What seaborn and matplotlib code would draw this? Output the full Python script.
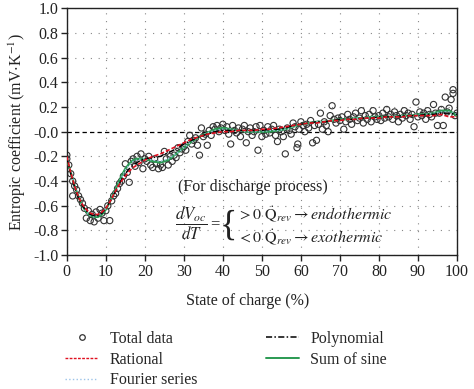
import numpy as np
import pandas as pd
import matplotlib
matplotlib.use('Agg')
import matplotlib.pyplot as plt
import seaborn as sns
from matplotlib.lines import Line2D
from matplotlib.ticker import FormatStrFormatter

# measured data (state of charge %, entropic coefficient mV/K)
soc_a = [0, 0, 0.5, 1, 1.5, 1.5, 2, 2.5, 3, 3.5, 4, 4.5, 5, 5.5, 6, 6.5, 7, 7.5, 8, 8.5,
         9, 9.5, 10, 10.5, 11, 11.5, 12, 12.5, 13, 13.5, 14, 14.5, 15, 15.5, 16, 16.5,
         17, 17.5, 18, 18.5, 19, 19.5, 20]
ent_a = [-0.19, -0.22, -0.27, -0.34, -0.40, -0.52, -0.44, -0.47, -0.52, -0.55, -0.58, -0.62,
         -0.70, -0.64, -0.72, -0.67, -0.73, -0.65, -0.70, -0.63, -0.66, -0.72, -0.64, -0.60,
         -0.72, -0.56, -0.52, -0.50, -0.46, -0.42, -0.40, -0.36, -0.26, -0.33, -0.41, -0.24,
         -0.22, -0.28, -0.20, -0.25, -0.18, -0.30, -0.22]

soc_b = [20.5, 21, 21.5, 22, 22.5, 23, 23.5, 24, 24.5, 25, 25.5, 26, 26.5, 27, 27.5, 28,
         28.5, 29, 29.5, 30, 30.5, 31, 31.5, 32, 32.5, 33, 33.5, 34, 34.5, 35, 35.5, 36,
         36.5, 37, 37.5, 38, 38.5, 39, 39.5, 40, 40.5]
ent_b = [-0.24, -0.20, -0.27, -0.29, -0.22, -0.26, -0.30, -0.27, -0.29, -0.16, -0.22, -0.27,
         -0.20, -0.24, -0.19, -0.21, -0.13, -0.17, -0.14, -0.12, -0.15, -0.08, -0.03, -0.10,
         -0.07, -0.05, -0.11, -0.19, 0.03, -0.04, -0.02, -0.11, 0.01, -0.03, 0.04, 0.02,
         0.05, 0.00, 0.03, 0.06, 0.01]

soc_c = [41, 41.5, 42, 42.5, 43, 43.5, 44, 44.5, 45, 45.5, 46, 46.5, 47, 47.5, 48, 48.5,
         49, 49.5, 50, 50.5, 51, 51.5, 52, 52.5, 53, 53.5, 54, 54.5, 55, 55.5, 56, 56.5,
         57, 57.5, 58, 58.5, 59, 59.2, 59.5, 60, 60.5, 61, 61.5, 62, 62.5, 63, 63.5, 64,
         64.5, 65, 65.5, 66, 66.5, 67, 67.5, 68, 68.5, 69, 69.5, 70]
ent_c = [0.04, -0.02, -0.10, 0.05, 0.01, -0.01, 0.03, -0.04, 0.02, 0.05, -0.09, 0.00,
         0.03, -0.03, 0.00, 0.04, -0.15, 0.05, -0.04, 0.01, -0.02, 0.04, -0.01, 0.02,
         0.05, -0.03, -0.08, 0.02, 0.00, -0.04, -0.18, 0.03, 0.01, -0.02, 0.07, 0.04,
         -0.13, -0.10, 0.02, 0.08, 0.05, 0.00, 0.06, 0.03, 0.09, -0.09, 0.05, -0.07,
         0.06, 0.15, 0.02, 0.08, 0.05, 0.00, 0.13, 0.21, 0.10, 0.07, 0.11, 0.09]

soc_d = [70.5, 71, 71.5, 72, 72.5, 73, 73.5, 74, 74.5, 75, 75.5, 76, 76.5, 77, 77.5, 78,
         78.5, 79, 79.5, 80, 80.5, 81, 81.5, 82, 82.5, 83, 83.5, 84, 84.5, 85, 85.5, 86,
         86.5, 87, 87.5, 88, 88.5, 89, 89.5, 90, 90.5, 91, 91.5, 92, 92.5, 93, 93.5, 94,
         94.5, 95, 95.5, 96, 96.5, 97, 97.5, 98, 98.5, 99, 99, 99.5, 100]
ent_d = [0.12, 0.02, 0.08, 0.14, 0.10, 0.06, 0.12, 0.15, 0.09, 0.11, 0.17, 0.07, 0.13,
         0.10, 0.14, 0.08, 0.17, 0.12, 0.10, 0.13, 0.09, 0.15, 0.11, 0.18, 0.12, 0.14,
         0.10, 0.16, 0.13, 0.08, 0.14, 0.11, 0.17, 0.13, 0.15, 0.10, 0.14, 0.04, 0.24,
         0.12, 0.16, 0.13, 0.15, 0.10, 0.17, 0.14, 0.12, 0.22, 0.15, 0.05, 0.15, 0.18,
         0.05, 0.28, 0.16, 0.19, 0.26, 0.31, 0.34, 0.13, 0.15]

# fitted curves
soc_fit = [0, 1, 2, 3, 4, 5, 6, 7, 8, 9, 10, 11, 12, 13, 14, 15, 16, 17, 18, 19, 20,
           22, 24, 26, 28, 30, 32, 34, 36, 38, 40, 42, 44, 46, 48, 50, 52, 54, 56, 58,
           60, 62, 64, 66, 68, 70, 72, 74, 76, 78, 80, 82, 84, 86, 88, 90, 92, 94, 96,
           98, 100]
rational = [-0.20, -0.33, -0.44, -0.53, -0.59, -0.63, -0.66, -0.67, -0.67, -0.65, -0.62,
            -0.57, -0.51, -0.45, -0.40, -0.36, -0.32, -0.29, -0.27, -0.25, -0.23, -0.20,
            -0.18, -0.15, -0.12, -0.09, -0.06, -0.04, -0.02, -0.01, 0.00, 0.00, 0.01, 0.01,
            0.01, 0.02, 0.02, 0.03, 0.04, 0.05, 0.06, 0.07, 0.07, 0.08, 0.09, 0.09, 0.10,
            0.10, 0.11, 0.11, 0.11, 0.12, 0.12, 0.12, 0.13, 0.13, 0.13, 0.13, 0.14, 0.12,
            0.12]
fourier = [-0.21, -0.33, -0.44, -0.53, -0.60, -0.65, -0.68, -0.69, -0.68, -0.66, -0.62,
           -0.57, -0.50, -0.44, -0.37, -0.31, -0.27, -0.24, -0.23, -0.22, -0.22, -0.23,
           -0.24, -0.22, -0.18, -0.13, -0.08, -0.04, -0.01, 0.01, 0.02, 0.02, 0.01, 0.00,
           0.00, 0.00, 0.01, 0.01, 0.02, 0.04, 0.06, 0.07, 0.08, 0.08, 0.09, 0.10, 0.10,
           0.11, 0.11, 0.12, 0.12, 0.12, 0.12, 0.13, 0.13, 0.14, 0.14, 0.15, 0.16, 0.16,
           0.14]
polynomial = [-0.21, -0.34, -0.45, -0.54, -0.60, -0.64, -0.67, -0.68, -0.68, -0.66, -0.62,
              -0.57, -0.51, -0.45, -0.39, -0.34, -0.30, -0.27, -0.25, -0.23, -0.22, -0.21,
              -0.20, -0.17, -0.14, -0.10, -0.07, -0.04, -0.02, 0.00, 0.01, 0.01, 0.01, 0.01,
              0.01, 0.01, 0.02, 0.02, 0.03, 0.05, 0.06, 0.07, 0.08, 0.08, 0.09, 0.10, 0.10,
              0.10, 0.11, 0.11, 0.12, 0.12, 0.12, 0.13, 0.13, 0.13, 0.14, 0.14, 0.15, 0.15,
              0.14]
sum_of_sine = [-0.22, -0.33, -0.44, -0.53, -0.60, -0.65, -0.68, -0.69, -0.69, -0.67, -0.63,
               -0.57, -0.50, -0.43, -0.36, -0.30, -0.26, -0.23, -0.22, -0.22, -0.22, -0.24,
               -0.25, -0.23, -0.18, -0.13, -0.08, -0.04, -0.01, 0.02, 0.03, 0.02, 0.01, 0.00,
               0.00, 0.00, 0.00, 0.01, 0.02, 0.04, 0.06, 0.07, 0.08, 0.08, 0.09, 0.10, 0.10,
               0.11, 0.11, 0.12, 0.12, 0.12, 0.12, 0.13, 0.13, 0.14, 0.14, 0.15, 0.17, 0.17,
               0.13]

data = pd.DataFrame({'soc': soc_a + soc_b + soc_c + soc_d,
                     'entropy': ent_a + ent_b + ent_c + ent_d})
fits = pd.DataFrame({'soc': soc_fit, 'rational': rational, 'fourier': fourier,
                     'polynomial': polynomial, 'sine': sum_of_sine})

sns.set_style('ticks')
plt.rcParams['font.family'] = ['Liberation Serif', 'DejaVu Serif']
plt.rcParams['mathtext.fontset'] = 'stix'

fig = plt.figure(figsize=(4.74, 3.89), dpi=100)
ax = fig.add_axes([0.141, 0.344, 0.823, 0.635])

sns.scatterplot(data=data, x='soc', y='entropy', ax=ax, marker='o', s=20,
                facecolor='none', edgecolor='#333333', linewidth=0.8, zorder=2)
sns.lineplot(data=fits, x='soc', y='sine', ax=ax, color='#2a9a52', linewidth=1.6, zorder=3)
sns.lineplot(data=fits, x='soc', y='fourier', ax=ax, color='#9cc3e8', linewidth=1.0,
             linestyle=':', zorder=3)
sns.lineplot(data=fits, x='soc', y='polynomial', ax=ax, color='black', linewidth=1.1,
             linestyle=(0, (4, 1.5, 1, 1.5)), zorder=4)
sns.lineplot(data=fits, x='soc', y='rational', ax=ax, color='#e01020', linewidth=1.2,
             linestyle=(0, (2.5, 1.2)), zorder=5)

ax.axhline(0, color='black', linewidth=0.9, linestyle=(0, (3.5, 2.5)), zorder=1)

ax.set_xlim(0, 100)
ax.set_ylim(-1.0, 1.0)
ax.set_xticks(np.arange(0, 101, 10))
ax.set_yticks(np.arange(-1.0, 1.01, 0.2))
ax.yaxis.set_major_formatter(FormatStrFormatter('%.1f'))
ax.grid(True, color='#888888', linewidth=0.8, linestyle=(0, (1, 6)))
for sp in ax.spines.values():
    sp.set_linewidth(1.0)
    sp.set_color('#222222')
ax.tick_params(direction='out', length=4, width=1.0, labelsize=11.5, colors='#222222', pad=2)

ax.set_xlabel('State of charge (%)', fontsize=11.5, color='#222222')
ax.xaxis.set_label_coords(0.464, -0.155)
ax.set_ylabel('Entropic coefficient (mV$\\cdot$K$^{-1}$)', fontsize=11.5, color='#222222')

ax.text(28.5, -0.45, '(For discharge process)', fontsize=11.5, ha='left', va='center',
        color='#222222')
ax.text(31.8, -0.74, r'$\dfrac{dV_{oc}}{dT}$', fontsize=12, ha='center', va='center',
        color='#222222')
ax.text(38.0, -0.75, '=', fontsize=12, ha='center', va='center', color='#222222')
ax.text(41.3, -0.765, '{', fontsize=26, ha='center', va='center', color='#222222',
        fontweight='light')
ax.text(43.5, -0.665, r'$>0\ \dot{\mathrm{Q}}_{rev}\rightarrow \mathit{endothermic}$',
        fontsize=11.5, ha='left', va='center', color='#222222')
ax.text(43.5, -0.855, r'$<0\ \dot{\mathrm{Q}}_{rev}\rightarrow \mathit{exothermic}$',
        fontsize=11.5, ha='left', va='center', color='#222222')

handles = [
    Line2D([], [], linestyle='none', marker='o', markersize=4, markerfacecolor='none',
           markeredgecolor='#333333', markeredgewidth=0.9),
    Line2D([], [], color='#e01020', linewidth=1.0, linestyle=(0, (2, 1))),
    Line2D([], [], color='#9cc3e8', linewidth=1.0, linestyle=':'),
    Line2D([], [], color='black', linewidth=1.1, linestyle=(0, (4, 1.5, 1, 1.5))),
    Line2D([], [], color='#2a9a52', linewidth=1.4),
]
labels = ['Total data', 'Rational', 'Fourier series', 'Polynomial', 'Sum of sine']
fig.legend(handles, labels, loc='upper left', bbox_to_anchor=(0.12, 0.17), ncol=2,
           frameon=False, fontsize=11.5, handlelength=2.1, handletextpad=0.7,
           labelspacing=0.3, columnspacing=4.3, borderpad=0)

fig.savefig('out.png', dpi=100)
